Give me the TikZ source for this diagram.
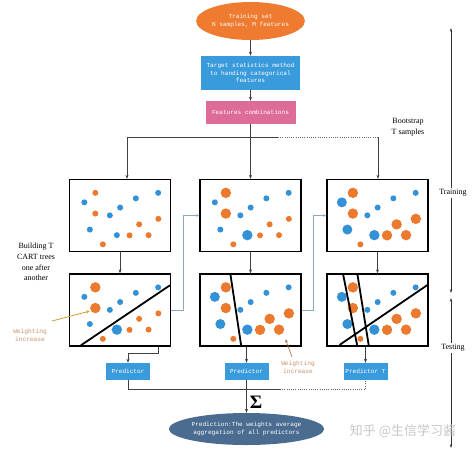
\documentclass[tikz,border=0pt]{standalone}
\usepackage{fontspec}
\setmainfont{Liberation Serif}
\setmonofont{Liberation Mono}
\newfontfamily\cjkfont{Noto Sans CJK SC}
\usetikzlibrary{shapes.geometric,arrows.meta}
\definecolor{dotblue}{HTML}{3391D6}
\definecolor{dotorange}{HTML}{EC7A2E}
\definecolor{topor}{HTML}{EE7B30}
\definecolor{boxblue}{HTML}{3A9BDC}
\definecolor{boxpink}{HTML}{DE6C98}
\definecolor{predell}{HTML}{4B6C91}
\definecolor{fbline}{HTML}{8EA8BE}
\definecolor{wtxt}{HTML}{C8946A}
\definecolor{warrA}{HTML}{C9A22A}
\definecolor{warrB}{HTML}{A57C5C}
\newcommand{\panelDots}[2]{%
  \begin{scope}[shift={(#1.north west)}]
  \foreach \px/\py/\cl/\ra/\rb/\rc in {
    26.5/14/dotorange/3/5.2/5.2,
    15.5/23.5/dotblue/3/3/5,
    67/19.5/dotblue/3/3/3,
    89.3/14/dotblue/3/3/3,
    26.5/34.7/dotorange/3/5.2/5.2,
    51.3/28.7/dotblue/3/3/3,
    41/36.5/dotblue/3/3/3,
    89.5/40/dotorange/3/3/5.2,
    70.3/45.5/dotorange/3/3/5.2,
    21/50.7/dotblue/3/3/5,
    48/56.3/dotblue/3/5.2/5.2,
    60.7/56.5/dotorange/3/3/5.2,
    79.7/56.3/dotorange/3/3/5.2,
    34/65.5/dotorange/3/3/3}
    {\fill[\cl] (\px,\py) circle[radius=#2pt];}
  \end{scope}}
\begin{document}
\begin{tikzpicture}[x=1pt,y=-1pt,
  monotext/.style={font=\ttfamily\fontsize{6.1}{7.6}\selectfont, text=white, align=center},
  flowbox/.style={rectangle, monotext, inner sep=1pt},
  flowell/.style={ellipse, monotext, inner sep=0pt},
  panel/.style={rectangle, draw=black, line width=1.3pt, minimum width=101pt, minimum height=72pt, inner sep=0pt},
  predbox/.style={rectangle, fill=boxblue, monotext, minimum width=44pt, minimum height=17pt, inner sep=0pt},
  conn/.style={draw=black!75, line width=0.7pt},
  arr/.style={conn, -{Stealth[length=4pt,width=3pt]}},
  dots/.style={draw=black!60, line width=0.7pt, dash pattern=on 1pt off 1.2pt},
  fb/.style={draw=fbline, line width=0.8pt, -{Stealth[length=3.5pt,width=2.6pt]}},
  split/.style={draw=black, line width=1.8pt},
  serif/.style={font=\fontsize{8}{10.7}\selectfont, align=center},
  wlabel/.style={font=\ttfamily\fontsize{6.2}{8}\selectfont, text=wtxt, align=center},
  side/.style={draw=black!80, line width=0.6pt, {Stealth[length=4pt,width=2.6pt]}-{Stealth[length=4pt,width=2.6pt]}}
]
\useasboundingbox (0,0) rectangle (474,451);

% flow at top
\node[flowell, fill=topor, minimum width=92pt, minimum height=38pt] (ts) at (250.5,21) {Training set\\N samples, M features};
\node[flowbox, fill=boxblue, minimum width=99pt, minimum height=34pt] (tsm) at (250.5,73) {Target statistics method\\to handing categorical\\features};
\node[flowbox, fill=boxpink, minimum width=90pt, minimum height=23pt] (fc) at (250.5,112.5) {Features combinations};
\draw[arr] (ts.south) -- (tsm.north);
\draw[arr] (tsm.south) -- (fc.north);

% panels
\node[panel] (b1t) at (120,215.5) {};
\node[panel] (b2t) at (250.5,215.5) {};
\node[panel] (b3t) at (377.5,215.5) {};
\node[panel] (b1b) at (120,310) {};
\node[panel] (b2b) at (250.5,310) {};
\node[panel] (b3b) at (377.5,310) {};

\panelDots{b1t}{\ra}
\panelDots{b2t}{\rb}
\panelDots{b3t}{\rc}
\panelDots{b1b}{\rb}
\panelDots{b2b}{\rc}
\panelDots{b3b}{\rc}

\begin{scope}[shift={(b1b.north west)}]
  \draw[split] (12,72) -- (101,12);
\end{scope}
\begin{scope}[shift={(b2b.north west)}]
  \draw[split] (31,0.5) -- (41.7,71.5);
\end{scope}
\begin{scope}[shift={(b3b.north west)}]
  \draw[split] (16.7,0.5) -- (30.7,71.5);
  \draw[split] (31,0.5) -- (42.3,71.5);
  \draw[split] (13.3,71.5) -- (101,11.7);
\end{scope}

% bootstrap distribution
\coordinate (jl) at (127,137);
\coordinate (jd) at (278,137);
\coordinate (jr) at (378,137);
\draw[conn] (jl) -- (jd);
\draw[dots] (jd) -- (jr);
\draw[arr] (fc.south) -- (b2t.north);
\draw[arr] (jl) -- (jl |- b1t.north);
\draw[arr] (jr) -- (jr |- b3t.north);
\node[serif] (bs) at (408,127) {Bootstrap\\T samples};

% between rows
\draw[arr] (b1t.south) -- (b1b.north);
\draw[arr] (b2t.south) -- (b2b.north);
\draw[arr] (b3t.south) -- (b3b.north);

% feedback
\coordinate (f1) at (183,215.5);
\coordinate (f2) at (313,215.5);
\draw[fb] (b1b.east) -| (f1) -- (b2t.west);
\draw[fb] (b2b.east) -| (f2) -- (b3t.west);

% predictors
\node[predbox] (p1) at (128,371.5) {Predictor};
\node[predbox] (p2) at (246.5,371.5) {Predictor};
\node[predbox] (p3) at (365.5,371.5) {Predictor T};
\node[monotext, inner sep=0pt] (d1) at ([yshift=-2pt]p1.south) {1};
\node[monotext, inner sep=0pt] (d2) at ([yshift=-2pt]p2.south) {2};

\coordinate (k1) at (158,353);
\draw[arr] (k1 |- b1b.south) -- (k1) -| (p1.north);
\draw[arr] (p2.north |- b2b.south) -- (p2.north);
\draw[arr] (p3.north |- b3b.south) -- (p3.north);

% aggregation
\node[flowell, fill=predell, minimum width=155pt, minimum height=32pt] (pe) at (246.5,429) {Prediction:The weights average\\aggregation of all predictors};
\coordinate (m) at (280,389);
\draw[conn] (p1.south) |- (m);
\draw[dots] (m) -| (p3.south);
\draw[arr] (p2.south) -- (pe.north);
\node[font=\bfseries\fontsize{19}{19}\selectfont, inner sep=0pt] (sig) at (256,402) {Σ};

% left labels
\node[serif] (bt) at (36,262) {Building T\\CART trees\\one after\\another};
\node[wlabel] (w1) at (30,335) {Weighting\\increase};
\coordinate (w1s) at (52,321);
\coordinate (w1e) at (90,311);
\draw[draw=warrA, line width=0.8pt, -{Stealth[length=4pt,width=3pt]}] (w1s) -- (w1e);
\node[wlabel] (w2) at (298,367.5) {Weighting\\increase};
\coordinate (w2s) at (292,357);
\coordinate (w2e) at (285.5,339);
\draw[draw=warrB, line width=0.7pt, -{Stealth[length=3.5pt,width=2.6pt]}] (w2s) -- (w2e);

% right side
\coordinate (ra1) at (451,28);
\coordinate (ra2) at (451,293);
\coordinate (ra3) at (451,298);
\coordinate (ra4) at (451,448);
\draw[side] (ra1) -- (ra2);
\draw[side] (ra3) -- (ra4);
\node[serif, fill=white, inner sep=1.5pt] (tr) at (453,193) {Training};
\node[serif, fill=white, inner sep=1.5pt] (te) at (453,348) {Testing};

% watermark
\node[font=\cjkfont\fontsize{13}{13}\selectfont, text=black!22, inner sep=0pt] (wm) at (403,431) {知乎 @生信学习酱};
\end{tikzpicture}
\end{document}
